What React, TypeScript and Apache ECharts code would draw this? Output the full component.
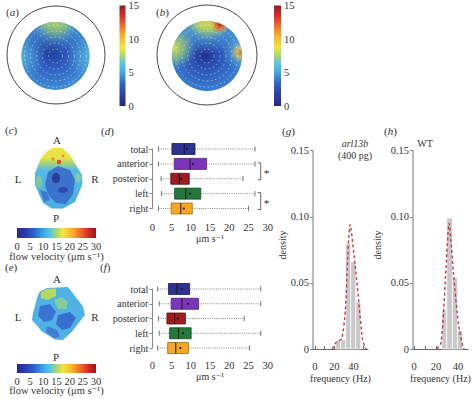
import React, { useEffect, useRef } from 'react';
import * as echarts from 'echarts';

const SERIF = '"Liberation Serif", "DejaVu Serif", serif';
const TXT = '#333333';

// ---------- colour bars ----------
const discVelocityMax = 15; // panels (a),(b)
const flowVelocityMax = 30; // panels (c),(e)

// ---------- box plots (d) and (f) ----------
const boxCategories = ['total', 'anterior', 'posterior', 'left', 'right'];
const boxFill = ['#2d3192', '#7b35bb', '#9e1c22', '#23793a', '#f5a623'];
const boxEdge = ['#1b1d5c', '#4e1f7a', '#5e1014', '#134a22', '#a86e10'];

const dMin = [1.6, 1.6, 2.3, 2.4, 1.6];
const dQ1 = [5.1, 5.7, 4.8, 5.8, 4.9];
const dMedian = [8.3, 9.8, 7.0, 8.7, 7.4];
const dQ3 = [11.1, 14.1, 9.6, 12.6, 10.4];
const dMax = [26.7, 26.7, 23.6, 26.7, 25.0];
const dMean = [8.9, 10.6, 7.5, 9.8, 8.2];
const dSignificantPairs = [
  ['anterior', 'posterior'],
  ['left', 'right'],
];

const fMin = [1.4, 1.8, 1.6, 1.8, 1.4];
const fQ1 = [4.2, 4.9, 3.8, 4.5, 4.0];
const fMedian = [6.4, 7.7, 5.8, 6.8, 6.1];
const fQ3 = [9.7, 12.0, 8.6, 10.1, 9.4];
const fMax = [28.2, 28.2, 23.9, 28.2, 25.3];
const fMean = [7.7, 9.3, 6.6, 8.0, 7.3];

// ---------- histograms (g) arl13b and (h) WT ----------
const gBinStart = [21.5, 26.7, 31.9, 37.1, 42.3];
const gBinEnd = [26.7, 31.9, 37.1, 42.3, 47.5];
const gDensity = [0.0065, 0.007, 0.08, 0.066, 0.036];
const gFitFreq = [18, 22, 27.8, 31.6, 34, 36.4, 40.8, 45.3, 49.4, 52.8];
const gFitDensity = [0, 0.005, 0.008, 0.03, 0.07, 0.094, 0.069, 0.037, 0.007, 0];

const hBinStart = [25.2, 29.7, 34.8, 39.4];
const hBinEnd = [29.7, 34.8, 39.4, 44.2];
const hDensity = [0.029, 0.099, 0.054, 0.014];
const hFitFreq = [20.6, 24.2, 26.7, 29.1, 31.8, 35.8, 40.3, 44.2, 45.5];
const hFitDensity = [0, 0.004, 0.027, 0.062, 0.095, 0.057, 0.019, 0.002, 0];

const densityTicks = [0, 0.05, 0.1, 0.15];
const densityLabels = ['0', '0.05', '0.10', '0.15'];
const freqLabels = [0, 20, 40];
const freqTicks = [0, 10, 20, 30, 40, 50];

const jetStops = [
  { offset: 0, color: '#28298a' },
  { offset: 0.1, color: '#2c3aa5' },
  { offset: 0.22, color: '#3163c4' },
  { offset: 0.33, color: '#3fa5e0' },
  { offset: 0.42, color: '#55c6e4' },
  { offset: 0.5, color: '#a8d86a' },
  { offset: 0.58, color: '#f0e63c' },
  { offset: 0.7, color: '#f5b22e' },
  { offset: 0.8, color: '#ef6c28' },
  { offset: 0.9, color: '#d92b27' },
  { offset: 1, color: '#951a1e' },
];

const txt = (extra: any = {}) => ({ fontFamily: SERIF, fontSize: 10, color: TXT, ...extra });

function boxRender(fills: string[], edges: string[]) {
  return (params: any, api: any) => {
    const idx = api.value(0);
    const y = api.coord([0, idx])[1];
    const px = (v: number) => api.coord([v, idx])[0];
    const xMin = px(api.value(1));
    const xQ1 = px(api.value(2));
    const xMed = px(api.value(3));
    const xQ3 = px(api.value(4));
    const xMax = px(api.value(5));
    const xMean = px(api.value(6));
    const h = 5.5;
    const c = 2.6;
    const dotted = { stroke: '#8a8a8a', lineWidth: 1, lineDash: [1, 1.2] };
    const cap = { stroke: '#777777', lineWidth: 1 };
    return {
      type: 'group',
      children: [
        { type: 'line', shape: { x1: xMin, y1: y, x2: xQ1, y2: y }, style: dotted },
        { type: 'line', shape: { x1: xQ3, y1: y, x2: xMax, y2: y }, style: dotted },
        { type: 'line', shape: { x1: xMin, y1: y - c, x2: xMin, y2: y + c }, style: cap },
        { type: 'line', shape: { x1: xMax, y1: y - c, x2: xMax, y2: y + c }, style: cap },
        {
          type: 'rect',
          shape: { x: xQ1, y: y - h, width: xQ3 - xQ1, height: 2 * h },
          style: { fill: fills[idx], stroke: edges[idx], lineWidth: 0.8 },
        },
        { type: 'line', shape: { x1: xMed, y1: y - h, x2: xMed, y2: y + h }, style: { stroke: '#1a1a1a', lineWidth: 1 } },
        { type: 'circle', shape: { cx: xMean, cy: y, r: 1.1 }, style: { fill: '#1a1a1a' } },
      ],
    };
  };
}

function histRender(params: any, api: any) {
  const p0 = api.coord([api.value(0), api.value(2)]);
  const p1 = api.coord([api.value(1), 0]);
  return {
    type: 'rect',
    shape: { x: p0[0], y: p0[1], width: p1[0] - p0[0], height: p1[1] - p0[1] },
    style: { fill: '#c8c8c8', stroke: '#ffffff', lineWidth: 0.7 },
  };
}

function bracketRender(params: any, api: any) {
  const a = api.value(0);
  const b = api.value(1);
  const p1 = api.coord([27.4, a]);
  const p2 = api.coord([27.4, b]);
  const s = api.coord([29.7, a]);
  const w = 3;
  return {
    type: 'group',
    children: [
      {
        type: 'polyline',
        shape: { points: [[p1[0], p1[1] - 1], [p1[0] + w, p1[1] - 1], [p1[0] + w, p2[1] + 1], [p1[0], p2[1] + 1]] },
        style: { stroke: '#666666', lineWidth: 1, fill: 'none' },
      },
      {
        type: 'text',
        x: s[0],
        y: (p1[1] + p2[1]) / 2 + 2,
        style: { text: '*', fill: TXT, fontFamily: SERIF, fontSize: 11, align: 'center', verticalAlign: 'middle' },
      },
    ],
  };
}

function panelLabel(letter: string, x: number, y: number) {
  return {
    type: 'text',
    x,
    y,
    style: {
      text: `{p|(}{i|${letter}}{p|)}`,
      verticalAlign: 'middle',
      rich: {
        p: { fontFamily: SERIF, fontSize: 11, fill: TXT },
        i: { fontFamily: SERIF, fontSize: 11, fontStyle: 'italic', fill: TXT },
      },
    },
  };
}

function plainText(text: string, x: number, y: number, extra: any = {}, rotation = 0) {
  return {
    type: 'text',
    x,
    y,
    rotation,
    style: { text, fill: TXT, fontFamily: SERIF, fontSize: 11, align: 'center', verticalAlign: 'middle', ...extra },
  };
}

const RG = (x: number, y: number, r: number, stops: [number, string][]) =>
  new echarts.graphic.RadialGradient(x, y, r, stops.map(([offset, color]) => ({ offset, color })));

function disc(cx: number, cy: number, r: number, fills: any[]) {
  const els: any[] = fills.map((f) => ({ type: 'circle', shape: { cx, cy, r }, style: { fill: f } }));
  [7, 13, 19, 25, 31].forEach((rr) =>
    els.push({
      type: 'circle',
      shape: { cx, cy, r: rr },
      style: { fill: 'none', stroke: 'rgba(255,255,255,0.55)', lineWidth: 0.8, lineDash: [1.6, 2.6] },
    })
  );
  return els;
}

function buildGraphic() {
  const g: any[] = [];
  // (a)
  g.push({ type: 'circle', shape: { cx: 56, cy: 55, r: 49 }, style: { fill: 'none', stroke: '#333', lineWidth: 0.9 } });
  g.push(
    ...disc(55.5, 56, 34, [
      RG(0.45, 0.38, 0.75, [[0, '#1e2f8c'], [0.2, '#2848ac'], [0.45, '#3164c2'], [0.72, '#3a82d0'], [1, '#48a4dc']]),
      RG(0.5, -0.05, 0.55, [[0, 'rgba(205,225,80,0.95)'], [0.35, 'rgba(150,210,120,0.75)'], [0.65, 'rgba(80,185,225,0.35)'], [1, 'rgba(70,170,225,0)']]),
      RG(0.0, 0.5, 0.35, [[0, 'rgba(90,195,225,0.75)'], [1, 'rgba(90,195,225,0)']]),
      RG(1.0, 0.5, 0.35, [[0, 'rgba(90,195,225,0.75)'], [1, 'rgba(90,195,225,0)']]),
    ])
  );
  // (b)
  g.push({ type: 'circle', shape: { cx: 207, cy: 55, r: 50 }, style: { fill: 'none', stroke: '#333', lineWidth: 0.9 } });
  g.push(
    ...disc(207, 56, 35, [
      RG(0.47, 0.47, 0.75, [[0, '#1e2f8c'], [0.2, '#2848ac'], [0.45, '#3164c2'], [0.72, '#3a7ed0'], [1, '#48a4dc']]),
      RG(0.5, -0.05, 0.55, [[0, 'rgba(245,215,60,0.95)'], [0.3, 'rgba(200,225,80,0.85)'], [0.6, 'rgba(90,190,220,0.45)'], [1, 'rgba(80,180,225,0)']]),
      RG(0.03, 0.38, 0.32, [[0, 'rgba(225,228,70,0.95)'], [0.55, 'rgba(150,210,120,0.6)'], [1, 'rgba(90,190,220,0)']]),
      RG(1.0, 0.42, 0.3, [[0, 'rgba(120,200,200,0.8)'], [1, 'rgba(90,190,220,0)']]),
      RG(0.98, 0.45, 0.14, [[0, 'rgba(235,110,40,0.95)'], [0.5, 'rgba(240,200,60,0.6)'], [1, 'rgba(240,200,60,0)']]),
      RG(0.68, 0.05, 0.14, [[0, 'rgba(205,35,35,1)'], [0.5, 'rgba(235,110,40,0.75)'], [1, 'rgba(240,200,60,0)']]),
    ])
  );

  // (c) embryo flow map
  const cShape = [[53, 148], [62, 148], [70, 155], [82, 175], [82.5, 184], [75, 202], [63, 208.5], [52, 208.5], [43, 203], [35, 185], [35, 173], [41, 158], [47, 151.5]];
  g.push({
    type: 'polygon',
    shape: { points: cShape },
    style: {
      fill: new echarts.graphic.LinearGradient(0, 0, 0, 1, [
        { offset: 0, color: '#f0e040' },
        { offset: 0.16, color: '#e6e448' },
        { offset: 0.26, color: '#9fd27e' },
        { offset: 0.36, color: '#58bbe4' },
        { offset: 1, color: '#4aaee0' },
      ]),
    },
  });
  g.push({ type: 'polygon', shape: { points: [[48, 172], [58, 166], [70, 170], [75, 180], [73, 194], [66, 204], [56, 203], [49, 196], [45, 185]] }, style: { fill: '#3767c8', opacity: 0.85 } });
  g.push({ type: 'polygon', shape: { points: [[40, 190], [47, 192], [50, 200], [44, 202]] }, style: { fill: '#3a6ccc', opacity: 0.8 } });
  g.push({ type: 'ellipse', shape: { cx: 56, cy: 178, rx: 4, ry: 5 }, style: { fill: '#2a3d9c' } });
  g.push({ type: 'ellipse', shape: { cx: 63, cy: 190, rx: 5, ry: 3 }, style: { fill: '#2e4aae' } });
  g.push({ type: 'ellipse', shape: { cx: 39, cy: 182, rx: 3, ry: 6 }, style: { fill: '#92d27c', opacity: 0.7 } });
  g.push({ type: 'ellipse', shape: { cx: 78, cy: 178, rx: 3, ry: 5 }, style: { fill: '#9ed47a', opacity: 0.6 } });
  g.push({ type: 'circle', shape: { cx: 59, cy: 162, r: 2.2 }, style: { fill: '#e24a2a' } });
  g.push({ type: 'circle', shape: { cx: 53, cy: 159, r: 1.6 }, style: { fill: '#f08a2e' } });
  g.push({ type: 'circle', shape: { cx: 63, cy: 156, r: 1.4 }, style: { fill: '#f08a2e' } });

  // (e) embryo flow map
  const eShape = [[40, 291.5], [47, 288], [68, 287], [83, 306.5], [85, 315], [72, 331.5], [63, 340], [55, 339.5], [42, 331.5], [32, 320], [33, 313], [38, 295]];
  g.push({ type: 'polygon', shape: { points: eShape }, style: { fill: '#4eb2e4' } });
  g.push({ type: 'polygon', shape: { points: [[41, 292], [47, 289], [56, 288.5], [56, 296], [48, 300], [41, 298]] }, style: { fill: '#b5d865' } });
  g.push({ type: 'polygon', shape: { points: [[54, 300], [62, 297], [68, 302], [66, 309], [58, 309]] }, style: { fill: '#8fd08a', opacity: 0.85 } });
  g.push({ type: 'polygon', shape: { points: [[40, 306], [50, 304], [56, 312], [52, 320], [44, 322], [38, 316]] }, style: { fill: '#3a6cd0', opacity: 0.9 } });
  g.push({ type: 'polygon', shape: { points: [[58, 315], [70, 312], [76, 318], [70, 328], [62, 330], [56, 324]] }, style: { fill: '#3766cc', opacity: 0.9 } });
  g.push({ type: 'polygon', shape: { points: [[47, 326], [57, 330], [60, 337], [54, 338], [46, 332]] }, style: { fill: '#4378d4', opacity: 0.9 } });

  // compass letters
  g.push(plainText('A', 57, 140), plainText('L', 18, 179), plainText('R', 95, 179), plainText('P', 56, 218));
  g.push(plainText('A', 57, 279), plainText('L', 18, 317), plainText('R', 95, 317), plainText('P', 56, 357));

  // titles of (g),(h)
  g.push(plainText('arl13b', 355, 143, { fontStyle: 'italic', fontSize: 10 }));
  g.push(plainText('(400 pg)', 355, 155, { fontSize: 10 }));
  g.push(plainText('WT', 425, 143, { fontSize: 10 }));

  // density axis titles of (g),(h)
  g.push(plainText('density', 282, 245, { fontSize: 10 }, Math.PI / 2));
  g.push(plainText('density', 377, 245, { fontSize: 10 }, Math.PI / 2));

  // panel labels
  g.push(panelLabel('a', 6, 12), panelLabel('b', 156, 12), panelLabel('c', 5, 130), panelLabel('d', 101, 131));
  g.push(panelLabel('e', 5, 267), panelLabel('f', 100, 267), panelLabel('g', 282, 131), panelLabel('h', 384, 131));
  return g;
}

export default function App() {
  const ref = useRef<HTMLDivElement>(null);
  useEffect(() => {
    document.body.style.margin = '0';
    if (!ref.current) return;
    const chart = echarts.init(ref.current, null, { renderer: 'svg' });

    const vBarGrad = new echarts.graphic.LinearGradient(0, 1, 0, 0, jetStops);
    const hBarGrad = new echarts.graphic.LinearGradient(0, 0, 1, 0, jetStops);

    const hiddenCat = { type: 'category', data: ['v'], show: false };
    const cbVertical = (gridIndex: number) => ({
      gridIndex,
      type: 'value',
      min: 0,
      max: discVelocityMax,
      interval: 5,
      position: 'right',
      axisLine: { show: false },
      axisTick: { show: false },
      splitLine: { show: false },
      axisLabel: { margin: 3, ...txt({ fontSize: 10.5 }) },
    });
    const cbHorizontal = (gridIndex: number) => ({
      gridIndex,
      type: 'value',
      position: 'bottom',
      min: 0,
      max: flowVelocityMax,
      interval: 5,
      axisLine: { show: false },
      axisTick: { show: false },
      splitLine: { show: false },
      axisLabel: { margin: 3, ...txt({ fontSize: 10.5 }) },
    });
    // axis carrying only a name (no line, ticks or labels)
    const nameOnly = (gridIndex: number, position: string, name: string, nameGap: number, min: number, max: number, fontSize = 10) => ({
      gridIndex,
      type: 'value',
      position,
      min,
      max,
      name,
      nameLocation: 'middle',
      nameGap,
      nameTextStyle: txt({ fontSize }),
      axisLine: { show: false },
      axisTick: { show: false },
      axisLabel: { show: false },
      splitLine: { show: false },
    });
    const boxX = (gridIndex: number, nameGap: number, offset: number) => ({
      gridIndex,
      type: 'value',
      position: 'bottom',
      min: 0,
      max: 30,
      interval: 5,
      offset,
      axisLine: { lineStyle: { color: '#888888' } },
      axisTick: { inside: true, length: 3, lineStyle: { color: '#888888' } },
      splitLine: { show: false },
      axisLabel: { margin: 3, ...txt({ fontSize: 10.5 }) },
      name: 'μm s⁻¹',
      nameLocation: 'middle',
      nameGap,
      nameTextStyle: txt(),
    });
    const boxY = (gridIndex: number) => ({
      gridIndex,
      type: 'category',
      position: 'left',
      data: boxCategories,
      inverse: true,
      boundaryGap: false,
      axisLine: { lineStyle: { color: '#888888' } },
      axisTick: { length: 3, lineStyle: { color: '#888888' } },
      axisLabel: { margin: 4, ...txt() },
    });
    const histX = (gridIndex: number, min: number, max: number) => ({
      gridIndex,
      type: 'value',
      position: 'bottom',
      min,
      max,
      offset: 9,
      axisLine: { lineStyle: { color: '#666666' } },
      axisTick: { inside: true, length: 3, customValues: freqTicks, lineStyle: { color: '#666666' } },
      axisLabel: { margin: 3, customValues: freqLabels, ...txt({ fontSize: 10.5 }) },
      splitLine: { show: false },
      name: 'frequency (Hz)',
      nameLocation: 'middle',
      nameGap: 15,
      nameTextStyle: txt(),
    });
    const histY = (gridIndex: number) => ({
      gridIndex,
      type: 'value',
      position: 'left',
      min: densityTicks[0],
      max: densityTicks[densityTicks.length - 1],
      interval: 0.05,
      axisLine: { show: true, onZero: false, lineStyle: { color: '#aaaaaa', width: 1.6 } },
      axisTick: { show: true, length: 3, lineStyle: { color: '#888888' } },
      splitLine: { show: false },
      axisLabel: {
        show: true,
        margin: 4,
        formatter: (v: any) => {
          const k = densityTicks.findIndex((t) => Math.abs(t - Number(v)) < 1e-6);
          return k >= 0 ? densityLabels[k] : String(v);
        },
        ...txt({ fontSize: 10.5 }),
      },
    });

    const boxData = (mn: number[], q1: number[], md: number[], q3: number[], mx: number[], mean: number[]) =>
      boxCategories.map((_, i) => [i, mn[i], q1[i], md[i], q3[i], mx[i], mean[i]]);

    const option: any = {
      animation: false,
      grid: [
        { left: 119.5, top: 5, width: 6, height: 101 },
        { left: 274, top: 5, width: 7, height: 101 },
        { left: 17, top: 228, width: 79, height: 10 },
        { left: 17, top: 364, width: 79, height: 9 },
        { left: 152.3, top: 149, width: 115.4, height: 59.5 },
        { left: 152.3, top: 289, width: 115.4, height: 59 },
        { left: 313, top: 150.7, width: 55, height: 198.3 },
        { left: 413, top: 150.7, width: 55, height: 198.3 },
      ],
      xAxis: [
        { ...hiddenCat, gridIndex: 0 },
        { ...hiddenCat, gridIndex: 1 },
        cbHorizontal(2),
        cbHorizontal(3),
        boxX(4, 14, 10),
        boxX(5, 13, 9),
        histX(6, -2, 55),
        histX(7, -1, 49),
        nameOnly(2, 'bottom', 'flow velocity (μm s⁻¹)', 12.5, 0, flowVelocityMax, 10.5),
        nameOnly(3, 'bottom', 'flow velocity (μm s⁻¹)', 11.5, 0, flowVelocityMax, 10.5),
      ],
      yAxis: [
        cbVertical(0),
        cbVertical(1),
        { ...hiddenCat, gridIndex: 2 },
        { ...hiddenCat, gridIndex: 3 },
        boxY(4),
        boxY(5),
        histY(6),
        histY(7),
        nameOnly(6, 'right', ' ', 0, 0, 0.15, 2),
        nameOnly(7, 'right', ' ', 0, 0, 0.15, 2),
      ],
      series: [
        { type: 'bar', xAxisIndex: 0, yAxisIndex: 0, data: [discVelocityMax], barWidth: '100%', itemStyle: { color: vBarGrad }, silent: true },
        { type: 'bar', xAxisIndex: 1, yAxisIndex: 1, data: [discVelocityMax], barWidth: '100%', itemStyle: { color: vBarGrad }, silent: true },
        { type: 'bar', xAxisIndex: 2, yAxisIndex: 2, data: [flowVelocityMax], barWidth: '100%', itemStyle: { color: hBarGrad }, silent: true },
        { type: 'bar', xAxisIndex: 3, yAxisIndex: 3, data: [flowVelocityMax], barWidth: '100%', itemStyle: { color: hBarGrad }, silent: true },
        {
          type: 'custom',
          xAxisIndex: 4,
          yAxisIndex: 4,
          data: boxData(dMin, dQ1, dMedian, dQ3, dMax, dMean),
          encode: { x: [1, 2, 3, 4, 5, 6], y: 0 },
          renderItem: boxRender(boxFill, boxEdge),
        },
        {
          type: 'custom',
          xAxisIndex: 4,
          yAxisIndex: 4,
          data: dSignificantPairs.map(([a, b]) => [boxCategories.indexOf(a), boxCategories.indexOf(b)]),
          encode: { y: [0, 1] },
          renderItem: bracketRender,
          clip: false,
        },
        {
          type: 'custom',
          xAxisIndex: 5,
          yAxisIndex: 5,
          data: boxData(fMin, fQ1, fMedian, fQ3, fMax, fMean),
          encode: { x: [1, 2, 3, 4, 5, 6], y: 0 },
          renderItem: boxRender(boxFill, boxEdge),
        },
        {
          type: 'custom',
          xAxisIndex: 6,
          yAxisIndex: 6,
          data: gBinStart.map((s, i) => [s, gBinEnd[i], gDensity[i]]),
          encode: { x: [0, 1], y: 2 },
          renderItem: histRender,
        },
        {
          type: 'line',
          xAxisIndex: 6,
          yAxisIndex: 6,
          data: gFitFreq.map((f, i) => [f, gFitDensity[i]]),
          smooth: 0.25,
          symbol: 'none',
          lineStyle: { color: '#c33a4c', width: 1.4, type: [3, 2.5] },
          z: 5,
        },
        {
          type: 'custom',
          xAxisIndex: 7,
          yAxisIndex: 7,
          data: hBinStart.map((s, i) => [s, hBinEnd[i], hDensity[i]]),
          encode: { x: [0, 1], y: 2 },
          renderItem: histRender,
        },
        {
          type: 'line',
          xAxisIndex: 7,
          yAxisIndex: 7,
          data: hFitFreq.map((f, i) => [f, hFitDensity[i]]),
          smooth: 0.25,
          symbol: 'none',
          lineStyle: { color: '#c33a4c', width: 1.4, type: [3, 2.5] },
          z: 5,
        },
      ],
      graphic: buildGraphic(),
    };
    chart.setOption(option);
    return () => chart.dispose();
  }, []);
  return <div ref={ref} style={{ width: 474, height: 399, background: '#ffffff' }} />;
}
